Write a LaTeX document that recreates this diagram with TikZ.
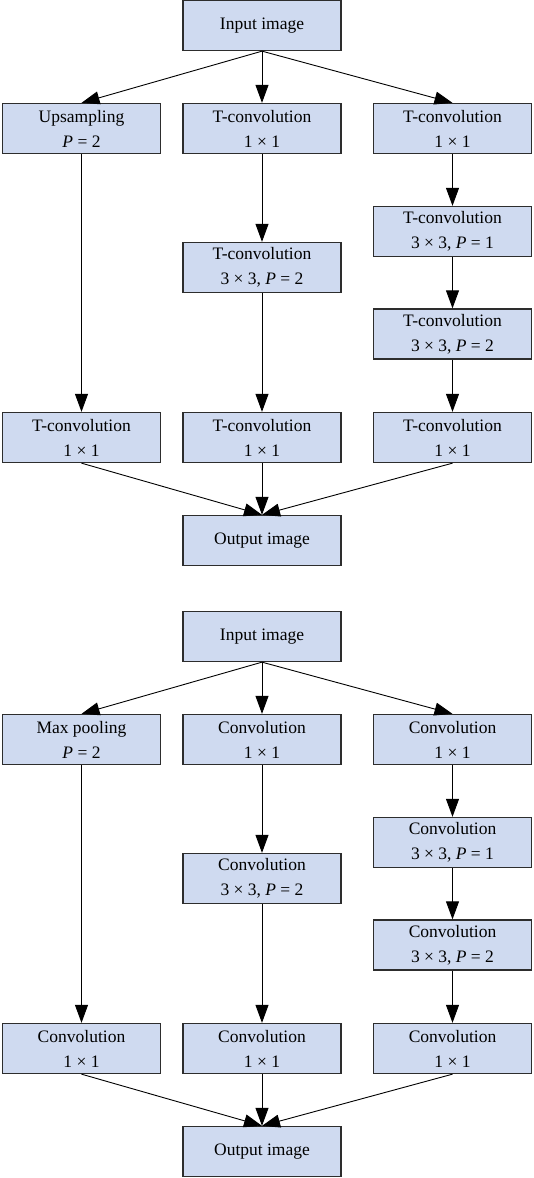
\documentclass[tikz,border=0pt]{standalone}
\usepackage{fontspec}
\setmainfont{Liberation Serif}
\usetikzlibrary{arrows.meta}
\definecolor{boxblue}{RGB}{207,218,240}
\definecolor{boxline}{RGB}{45,45,45}
\tikzset{
  layer/.style={draw=boxline, fill=boxblue, line width=1.3pt, minimum width=158pt,
    minimum height=50pt, inner sep=0pt, align=center, font=\fontsize{17.5}{25}\selectfont},
  flow/.style={-{Triangle[length=18pt, width=13pt]}, line width=0.9pt}
}
\begin{document}
\begin{tikzpicture}[x=1pt, y=-1pt]
  \useasboundingbox (0,0) rectangle (533,1178);
  \foreach \k/\dy/\op/\first in {a/0/T-convolution/Upsampling, b/611/Convolution/Max pooling}{
    \node[layer] (in\k) at (262,25.5+\dy) {Input image};
    \node[layer] (l1\k) at (81.5,128.5+\dy) {\first\\\textit{P} = 2};
    \node[layer] (m1\k) at (262,128.5+\dy) {\op\\1 × 1};
    \node[layer] (r1\k) at (452.5,128.5+\dy) {\op\\1 × 1};
    \node[layer] (m2\k) at (262,267.5+\dy) {\op\\3 × 3, \textit{P} = 2};
    \node[layer] (r2\k) at (452.5,231.5+\dy) {\op\\3 × 3, \textit{P} = 1};
    \node[layer] (r3\k) at (452.5,334+\dy) {\op\\3 × 3, \textit{P} = 2};
    \node[layer] (l4\k) at (81.5,437.5+\dy) {\op\\1 × 1};
    \node[layer] (m4\k) at (262,437.5+\dy) {\op\\1 × 1};
    \node[layer] (r4\k) at (452.5,437.5+\dy) {\op\\1 × 1};
    \node[layer] (out\k) at (262,540.5+\dy) {Output image};
    % fan out
    \draw[flow] (in\k.south) -- (l1\k.north);
    \draw[flow] (in\k.south) -- (m1\k.north);
    \draw[flow] (in\k.south) -- (r1\k.north);
    % columns
    \draw[flow] (l1\k) -- (l4\k);
    \draw[flow] (m1\k) -- (m2\k);
    \draw[flow] (m2\k) -- (m4\k);
    \draw[flow] (r1\k) -- (r2\k);
    \draw[flow] (r2\k) -- (r3\k);
    \draw[flow] (r3\k) -- (r4\k);
    % fan in
    \draw[flow] (l4\k.south) -- (out\k.north);
    \draw[flow] (m4\k.south) -- (out\k.north);
    \draw[flow] (r4\k.south) -- (out\k.north);
  }
\end{tikzpicture}
\end{document}
